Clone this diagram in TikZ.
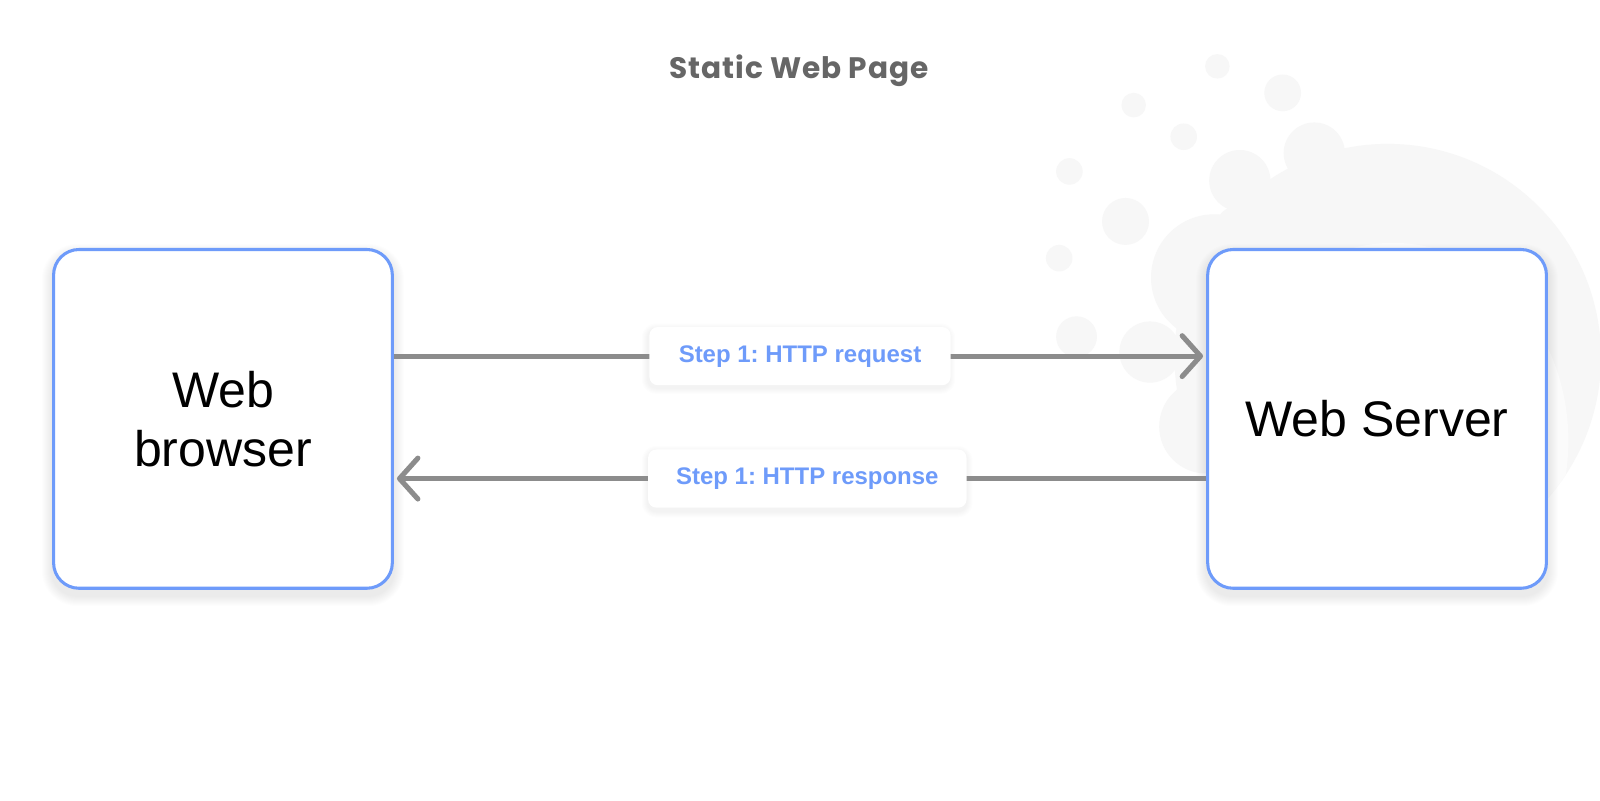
\documentclass[tikz,border=0pt]{standalone}
\usepackage{fontspec}
\setmainfont{Liberation Sans}
\newfontfamily\titlefont[LetterSpace=3]{Poppins}
\usetikzlibrary{arrows.meta}
\frenchspacing
\definecolor{boxblue}{HTML}{6E9BFA}
\definecolor{linegray}{HTML}{8C8C8C}
\definecolor{titlegray}{HTML}{666666}
\definecolor{blobgray}{HTML}{F7F7F7}
\definecolor{blobinner}{HTML}{FBFBFB}
\begin{document}
\begin{tikzpicture}[x=1pt,y=-1pt,
  hostbox/.style={draw=boxblue, line width=3pt, fill=white, rounded corners=25pt,
    minimum width=332pt, minimum height=332pt, align=center, inner sep=0pt,
    font=\fontsize{49}{58}\selectfont},
  conn/.style={draw=linegray, line width=5pt, shorten >=3pt,
    -{Straight Barb[length=18pt,width=40pt,round]}},
  steplabel/.style={fill=white, rounded corners=8pt, minimum height=57pt,
    text=boxblue, inner sep=0pt, font=\bfseries\fontsize{23.5}{28}\selectfont},
  titletext/.style={text=titlegray, font=\titlefont\bfseries\fontsize{29}{34}\selectfont},
  blob/.style={fill=blobgray},
]
% canvas
\fill[white] (0,0) rectangle (1568,784);
\useasboundingbox (0,0) rectangle (1568,784);

% background blob
\fill[blob] (1360,350) circle (209pt);
\begin{scope}
  \clip (1360,350) circle (209pt);
  \fill[blobinner] (1365,432) ellipse [x radius=172pt, y radius=194pt];
\end{scope}
\fill[blob] (1190,272) circle (62pt);
\fill[blob] (1182,418) circle (46pt);
\fill[blob] (1288,150) circle (30pt);
\fill[blob] (1215,177) circle (30pt);
\fill[blob] (1212,222) circle (20pt);
\fill[blob] (1193,65) circle (12pt);
\fill[blob] (1257,91) circle (18pt);
\fill[blob] (1111,103) circle (12pt);
\fill[blob] (1160,134) circle (13pt);
\fill[blob] (1048,168) circle (13pt);
\fill[blob] (1103,217) circle (23pt);
\fill[blob] (1038,253) circle (13pt);
\fill[blob] (1055,330) circle (20pt);
\fill[blob] (1127,345) circle (30pt);

% soft shadows
\foreach \s in {1,...,10} {
  \fill[black, opacity=0.006, rounded corners={25pt+\s pt}]
    (51-\s,249-\s) rectangle (386+\s,584+\s);
  \fill[black, opacity=0.006, rounded corners={25pt+\s pt}]
    (1182-\s,249-\s) rectangle (1517+\s,584+\s);
}
\foreach \s in {1,...,6} {
  \fill[black, opacity=0.006, rounded corners={8pt+\s pt}]
    (635-\s,323-\s) rectangle (930+\s,380+\s);
  \fill[black, opacity=0.006, rounded corners={8pt+\s pt}]
    (635-\s,443-\s) rectangle (947+\s,501+\s);
}

% title
\node[titletext] (title) at (783,69) {Static Web Page};

% hosts
\node[hostbox] (wb) at (218.5,410.5) {Web\\browser};
\node[hostbox] (ws) at (1349.5,410.5) {Web Server};

% connectors
\draw[conn] ([yshift=61.5pt]wb.east) -- node[steplabel, minimum width=295pt, pos=0.5] (req) {Step 1: HTTP request} ([yshift=61.5pt]ws.west);
\draw[conn] ([yshift=-58.5pt]ws.west) -- node[steplabel, minimum width=312pt, pos=0.491] (resp) {Step 1: HTTP response} ([yshift=-58.5pt]wb.east);
\end{tikzpicture}
\end{document}
